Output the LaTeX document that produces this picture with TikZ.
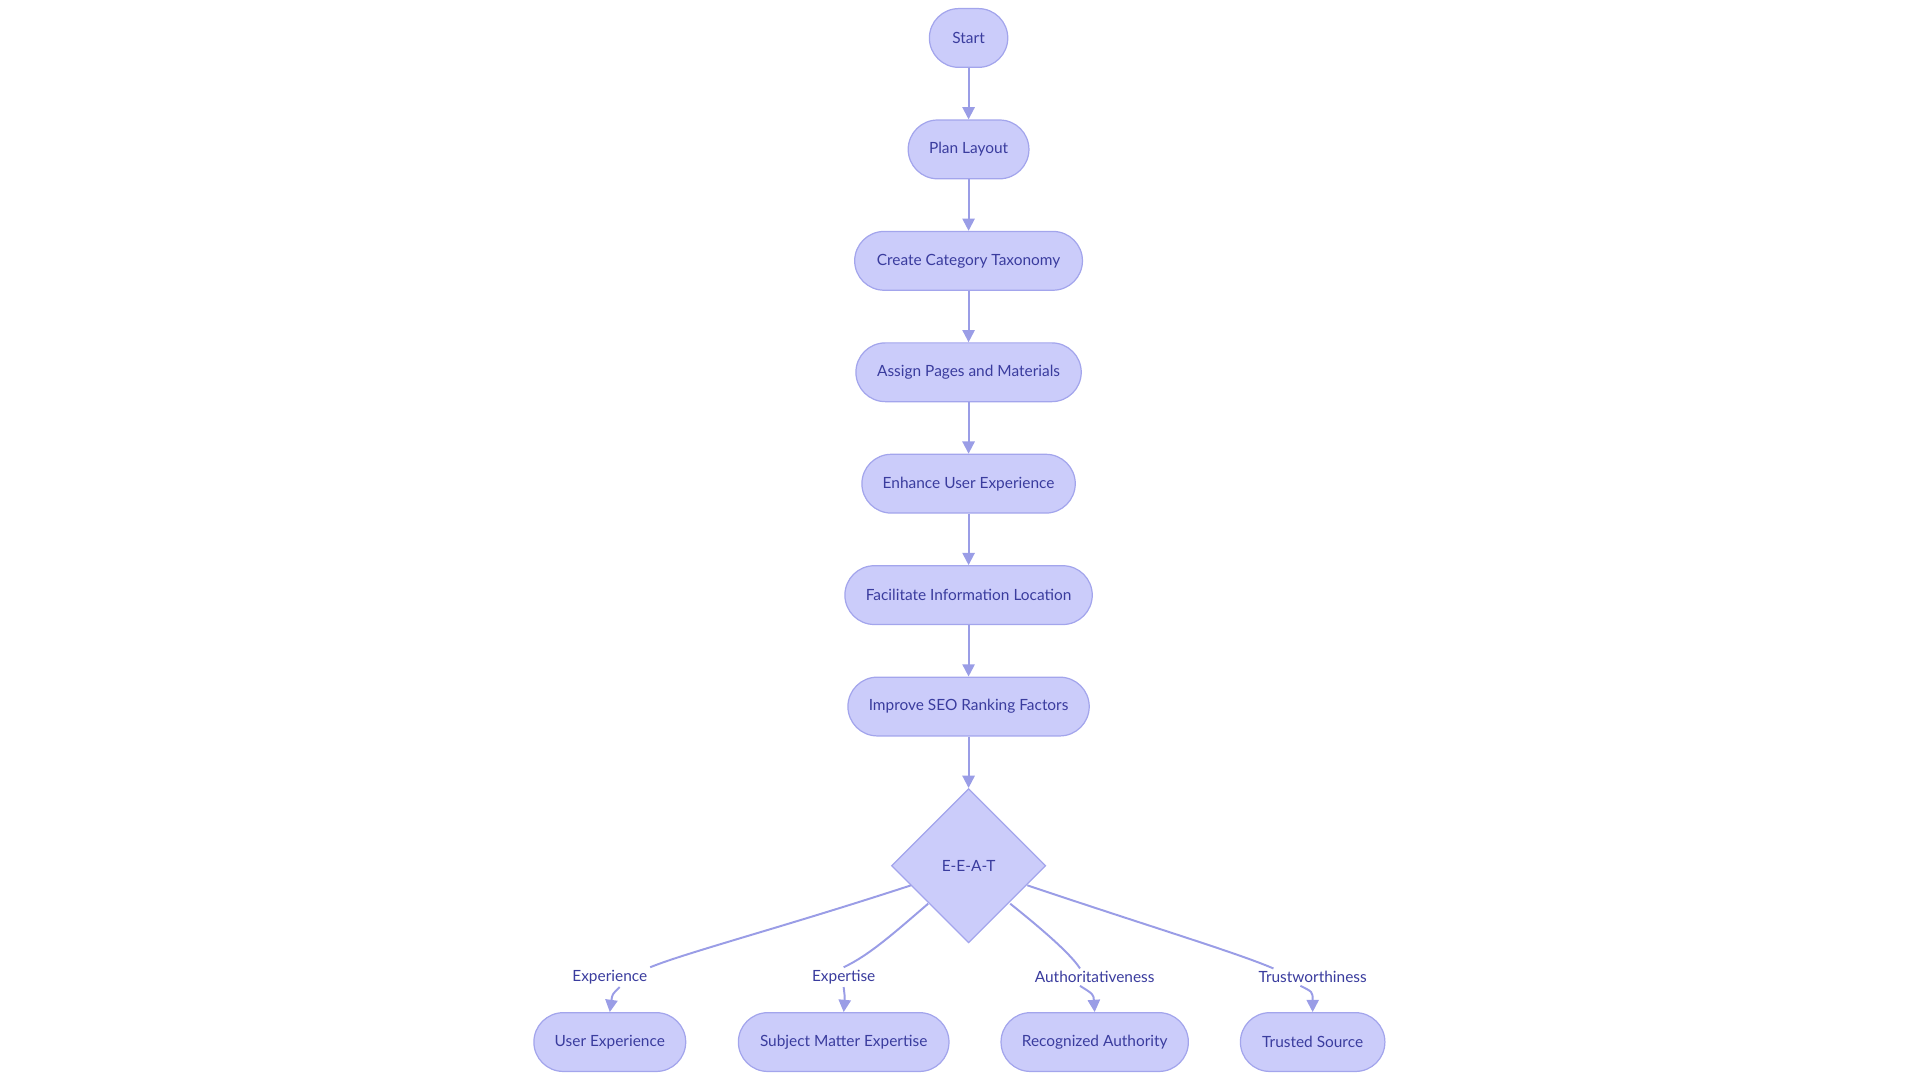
\documentclass[tikz,border=0pt]{standalone}
\usepackage{fontspec}
\setmainfont{Lato}
\usetikzlibrary{shapes.geometric,arrows.meta}
\definecolor{nfill}{HTML}{CBCCFA}
\definecolor{nline}{HTML}{A3A5EC}
\definecolor{ntext}{HTML}{3A3C9E}
\definecolor{eline}{HTML}{9A9DE6}
\begin{document}
\begin{tikzpicture}[x=0.5pt,y=-0.5pt,
  nodebox/.style={draw=nline,fill=nfill,text=ntext,rounded corners=12pt,minimum height=24pt,inner xsep=8.5pt,font=\fontsize{6.3}{7}\selectfont,line width=0.5pt},
  dia/.style={diamond,draw=nline,fill=nfill,text=ntext,minimum width=63pt,minimum height=63pt,inner sep=0pt,font=\fontsize{6.3}{7}\selectfont,line width=0.5pt},
  lbl/.style={text=ntext,fill=white,inner sep=1pt,font=\fontsize{6.3}{7}\selectfont},
  edge/.style={draw=eline,line width=0.8pt,-{Triangle[length=5pt,width=5pt]}},
  plain/.style={draw=eline,line width=0.8pt}]
\useasboundingbox (0,0) rectangle (1568,880);
\node[nodebox,minimum width=32pt] (s) at (791,31) {Start};
\node[nodebox,minimum width=49pt] (p) at (791,122) {Plan Layout};
\node[nodebox,minimum width=93pt] (c) at (791,213) {Create Category Taxonomy};
\node[nodebox,minimum width=92pt] (a) at (791,304) {Assign Pages and Materials};
\node[nodebox,minimum width=87pt] (e) at (791,395) {Enhance User Experience};
\node[nodebox,minimum width=101pt] (f) at (791,486) {Facilitate Information Location};
\node[nodebox,minimum width=97.5pt] (i) at (791,577) {Improve SEO Ranking Factors};
\node[dia] (d) at (791,707) {E-E-A-T};
\node[nodebox,minimum width=61.5pt] (u) at (498,851) {User Experience};
\node[nodebox,minimum width=86pt] (m) at (689,851) {Subject Matter Expertise};
\node[nodebox,minimum width=76pt] (r) at (894,851) {Recognized Authority};
\node[nodebox,minimum width=59pt] (t) at (1072,851) {Trusted Source};
\node[lbl] (l1) at (498,798) {Experience};
\node[lbl] (l2) at (689,798) {Expertise};
\node[lbl] (l3) at (894,798) {Authoritativeness};
\node[lbl] (l4) at (1072,798) {Trustworthiness};
\draw[edge] (s) -- (p);
\draw[edge] (p) -- (c);
\draw[edge] (c) -- (a);
\draw[edge] (a) -- (e);
\draw[edge] (e) -- (f);
\draw[edge] (f) -- (i);
\draw[edge] (i) -- (d);
\coordinate (d1) at (744,723);
\coordinate (d2) at (758,738);
\coordinate (d3) at (825,738);
\coordinate (d4) at (839,723);
\draw[plain] (d1) .. controls (640,757) and (560,778) .. (l1.north east);
\draw[edge] (l1.south) ++(8,0) coordinate (q1) (q1) .. controls (500,812) .. (u.north);
\draw[plain] (d2) .. controls (730,762) and (710,780) .. (l2.north);
\draw[edge] (l2.south) .. controls (690,815) .. (m.north);
\draw[plain] (d3) .. controls (855,762) and (875,780) .. ([xshift=-6pt]l3.north);
\draw[edge] ([xshift=-6pt]l3.south) .. controls (893,812) .. (r.north);
\draw[plain] (d4) .. controls (940,757) and (1010,778) .. ([xshift=-16pt]l4.north);
\draw[edge] ([xshift=-5pt]l4.south) .. controls (1072,810) .. (t.north);
\end{tikzpicture}
\end{document}
